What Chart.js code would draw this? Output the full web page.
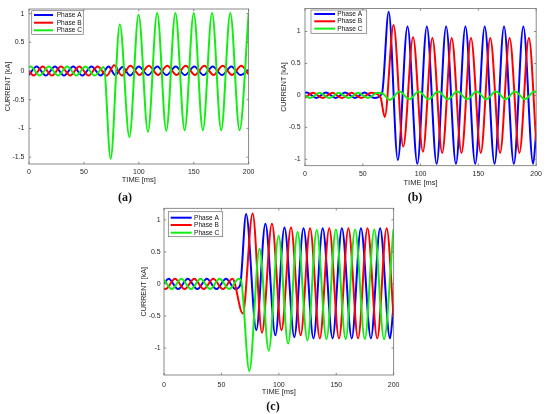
<!DOCTYPE html>
<html>
<head>
<meta charset="utf-8">
<script src="https://cdn.jsdelivr.net/npm/chart.js@4.4.0/dist/chart.umd.min.js"></script>
<style>
  body { margin: 0; background: #fff; width: 550px; height: 414px; position: relative; overflow: hidden; }
  canvas { position: absolute; }
  .tag { position: absolute; font-family: 'Liberation Serif', serif; font-weight: bold; font-size: 12px;
         color: #111; transform: translate(-50%, -50%); }
</style>
</head>
<body>
<canvas id="chart-a" width="258" height="190" style="left:0;top:0"></canvas>
<canvas id="chart-b" width="270" height="190" style="left:276px;top:0"></canvas>
<canvas id="chart-c" width="275" height="200" style="left:130px;top:200px"></canvas>
<div class="tag" style="left:125px;top:197px">(a)</div>
<div class="tag" style="left:415px;top:197px">(b)</div>
<div class="tag" style="left:273px;top:406px">(c)</div>
<script>
// tick labels
const xTicks = [0, 50, 100, 150, 200];
const yTicksA = [-1.5, -1, -0.5, 0, 0.5, 1];
const yTicksB = [-1, -0.5, 0, 0.5, 1];
const yTicksC = [-1, -0.5, 0, 0.5, 1];
const phaseNames = ['Phase A', 'Phase B', 'Phase C'];

// (a) extrema: time [ms], current [kA]
const aTimeA = [0, 6.9, 15.3, 23.6, 31.9, 40.2, 48.6, 56.9, 65.3, 72.5, 78.5, 85, 92, 100, 108.4, 116.8, 125.2, 133.6, 142, 150.5, 158.9, 167.3, 175.7, 184.2, 192.6, 200];
const aCurA  = [-0.07, 0.08, -0.08, 0.08, -0.08, 0.08, -0.08, 0.08, -0.08, 0.08, -0.07, 0.07, -0.08, 0.08, -0.07, 0.08, -0.07, 0.08, -0.07, 0.08, -0.07, 0.08, -0.07, 0.08, -0.07, 0.02];
const aTimeB = [0, 4.2, 12.5, 20.9, 29.2, 37.5, 45.8, 54.2, 62.5, 70.8, 77.5, 84.5, 92.3, 100.7, 109.1, 117.5, 125.9, 134.3, 142.7, 151.1, 159.6, 168, 176.4, 184.8, 193.3, 200];
const aCurB  = [0, -0.08, 0.08, -0.08, 0.08, -0.08, 0.08, -0.08, 0.08, -0.08, 0.1, -0.08, 0.09, -0.07, 0.09, -0.07, 0.09, -0.07, 0.09, -0.07, 0.09, -0.07, 0.09, -0.07, 0.09, -0.06];
const aTimeC = [0, 1.4, 9.7, 18.1, 26.4, 34.7, 43.1, 51.4, 59.7, 68.1, 74.3, 82.7, 91.4, 99.8, 108.3, 116.7, 125, 133.3, 141.7, 150, 158.3, 166.7, 175, 183.3, 191.7, 200];
const aCurC  = [0.07, 0.08, -0.08, 0.08, -0.08, 0.08, -0.08, 0.08, -0.08, 0.07, -1.53, 0.81, -1.15, 0.98, -1.06, 1.01, -1.04, 1.01, -1.03, 1.01, -1.03, 1.01, -1.03, 1.01, -1.03, 1.0];

// (b)
const bTimeA = [0, 1.5, 9.8, 18.2, 26.5, 34.8, 43.2, 51.5, 59.8, 66.6, 72.4, 80.3, 88.7, 97.2, 105.4, 113.9, 122.1, 130.6, 138.8, 147.3, 155.5, 164, 172.2, 180.7, 188.9, 197.4, 200];
const bCurA  = [0.04, 0.045, -0.04, 0.045, -0.04, 0.045, -0.04, 0.045, -0.04, 0.03, 1.31, -1.01, 1.08, -1.07, 1.08, -1.07, 1.08, -1.07, 1.08, -1.07, 1.08, -1.07, 1.08, -1.07, 1.08, -1.07, -0.58];
const bTimeB = [0, 7, 15.3, 23.7, 32, 40.3, 48.7, 57, 65.3, 69, 76.6, 85, 93.5, 102, 110.2, 118.7, 126.9, 135.4, 143.6, 152.1, 160.3, 168.8, 177, 185.5, 193.7, 200];
const bCurB  = [-0.035, 0.04, -0.04, 0.04, -0.04, 0.04, -0.04, 0.04, -0.03, -0.34, 1.1, -0.8, 0.91, -0.88, 0.9, -0.9, 0.9, -0.9, 0.9, -0.9, 0.9, -0.9, 0.9, -0.9, 0.9, -0.72];
const bTimeC = [0, 4.3, 12.6, 20.9, 29.2, 37.6, 45.9, 54.3, 62.6, 67, 73.5, 81.8, 90.2, 98.5, 106.8, 115.2, 123.5, 131.8, 140.2, 148.5, 156.8, 165.2, 173.5, 181.8, 190.2, 198.5, 200];
const bCurC  = [0, -0.04, 0.04, -0.04, 0.04, -0.04, 0.04, -0.04, 0.04, 0.03, -0.07, 0.06, -0.06, 0.06, -0.06, 0.06, -0.06, 0.06, -0.06, 0.06, -0.06, 0.06, -0.06, 0.06, -0.06, 0.06, 0.055];

// (c)
const cTimeA = [0, 4, 12.3, 20.7, 29, 37.3, 45.7, 54, 62.3, 66.3, 71.5, 80.4, 88.3, 97, 104.9, 113.5, 121.5, 130.2, 138.2, 146.8, 154.9, 163.5, 171.5, 180.2, 188.2, 196.8, 200];
const cCurA  = [0.01, 0.08, -0.08, 0.08, -0.08, 0.08, -0.08, 0.08, -0.08, -0.02, 1.09, -0.72, 0.94, -0.8, 0.88, -0.83, 0.87, -0.85, 0.87, -0.85, 0.87, -0.85, 0.87, -0.85, 0.87, -0.85, -0.32];
const cTimeB = [0, 1.3, 9.6, 17.9, 26.3, 34.6, 42.9, 51.3, 59.6, 68.6, 77.2, 85.3, 94, 102.3, 110.6, 119, 127.2, 135.7, 143.9, 152.4, 160.6, 169, 177.2, 185.7, 193.9, 200];
const cCurB  = [-0.07, -0.08, 0.08, -0.08, 0.08, -0.08, 0.08, -0.08, 0.08, -0.46, 1.1, -0.76, 0.94, -0.72, 0.88, -0.8, 0.87, -0.85, 0.87, -0.85, 0.87, -0.85, 0.87, -0.85, 0.87, -0.53];
const cTimeC = [0, 6.8, 15.1, 23.5, 31.8, 40.1, 48.4, 56.8, 65.1, 67, 74.3, 83.2, 91.2, 99.8, 108.1, 116.3, 124.9, 133, 141.5, 149.7, 158.2, 166.4, 174.9, 183.1, 191.6, 199.8];
const cCurC  = [0.066, -0.08, 0.08, -0.08, 0.08, -0.08, 0.08, -0.08, 0.08, 0.06, -1.36, 0.55, -1.04, 0.75, -0.93, 0.81, -0.88, 0.84, -0.86, 0.85, -0.86, 0.85, -0.86, 0.85, -0.86, 0.85];

const FONT = "'Liberation Sans', Arial, sans-serif";
const INK = '#262626';
const FRAME = '#6e6e6e';
const colors = ['#0000ff', '#ff0000', '#12ee12'];

function toPoints(times, values) {
    return times.map((t, i) => ({ x: t, y: values[i] }));
}

// box around the axes with inward tick marks, like MATLAB
const framePlugin = {
    id: 'frame',
    afterDatasetsDraw(chart) {
        const { ctx, chartArea: a, scales } = chart;
        ctx.save();
        ctx.strokeStyle = FRAME;
        ctx.lineWidth = 0.8;
        ctx.strokeRect(a.left, a.top, a.right - a.left, a.bottom - a.top);
        ctx.beginPath();
        scales.x.ticks.forEach(t => {
            const px = scales.x.getPixelForValue(t.value);
            ctx.moveTo(px, a.bottom); ctx.lineTo(px, a.bottom - 2.2);
            ctx.moveTo(px, a.top); ctx.lineTo(px, a.top + 2.2);
        });
        scales.y.ticks.forEach(t => {
            const py = scales.y.getPixelForValue(t.value);
            ctx.moveTo(a.left, py); ctx.lineTo(a.left + 2.2, py);
            ctx.moveTo(a.right, py); ctx.lineTo(a.right - 2.2, py);
        });
        ctx.stroke();
        ctx.restore();
    }
};

// legend box drawn inside the axes
const insideLegend = {
    id: 'insideLegend',
    afterDraw(chart, args, opts) {
        const { ctx } = chart;
        ctx.save();
        ctx.fillStyle = '#fff';
        ctx.fillRect(opts.x, opts.y, opts.w, opts.h);
        ctx.strokeStyle = FRAME;
        ctx.lineWidth = 0.7;
        ctx.strokeRect(opts.x, opts.y, opts.w, opts.h);
        ctx.font = '6.6px ' + FONT;
        ctx.textBaseline = 'middle';
        chart.data.datasets.forEach((ds, i) => {
            const y = opts.rows[i];
            ctx.strokeStyle = ds.borderColor;
            ctx.lineWidth = 2;
            ctx.beginPath();
            ctx.moveTo(opts.lx0, y);
            ctx.lineTo(opts.lx1, y);
            ctx.stroke();
            ctx.fillStyle = '#111';
            ctx.fillText(ds.label, opts.tx, y + 0.3);
        });
        ctx.restore();
    }
};

function makeChart(id, series, cfg) {
    const datasets = series.map((s, i) => ({
        label: phaseNames[i],
        data: toPoints(s[0], s[1]),
        borderColor: colors[i],
        borderWidth: 2,
        pointRadius: 0,
        fill: false,
        cubicInterpolationMode: 'monotone',
        order: 3 - i
    }));
    return new Chart(document.getElementById(id), {
        type: 'line',
        data: { datasets },
        plugins: [framePlugin, insideLegend],
        options: {
            responsive: false,
            animation: false,
            events: [],
            layout: { padding: { top: cfg.padTop, right: cfg.padRight, left: 0, bottom: 0 } },
            plugins: {
                legend: { display: false },
                tooltip: { enabled: false },
                insideLegend: cfg.legend
            },
            scales: {
                x: {
                    type: 'linear',
                    min: 0,
                    max: 200,
                    afterBuildTicks: scale => { scale.ticks = xTicks.map(v => ({ value: v })); },
                    afterFit: scale => { scale.height = cfg.xAxisH; },
                    grid: { display: false, drawTicks: false },
                    border: { display: false },
                    ticks: { color: INK, font: { family: FONT, size: 7 }, padding: cfg.xTickPad, maxRotation: 0 },
                    title: { display: true, text: 'TIME [ms]', color: INK,
                             font: { family: FONT, size: 7.5 }, padding: { top: 0, bottom: cfg.xTitlePad } }
                },
                y: {
                    type: 'linear',
                    min: cfg.yMin,
                    max: cfg.yMax,
                    afterBuildTicks: scale => { scale.ticks = cfg.yTicks.map(v => ({ value: v })); },
                    afterFit: scale => { scale.width = cfg.yAxisW; },
                    grid: { display: false, drawTicks: false },
                    border: { display: false },
                    ticks: { color: INK, font: { family: FONT, size: 7 }, padding: cfg.yTickPad,
                             callback: v => String(v) },
                    title: { display: true, text: 'CURRENT [kA]', color: INK,
                             font: { family: FONT, size: 7.2 }, padding: { top: cfg.yTitlePad, bottom: 0 } }
                }
            }
        }
    });
}

makeChart('chart-a', [[aTimeA, aCurA], [aTimeB, aCurB], [aTimeC, aCurC]], {
    yMin: -1.62, yMax: 1.08, yTicks: yTicksA,
    padTop: 9, padRight: 7, xAxisH: 26, yAxisW: 29,
    xTickPad: 3.5, xTitlePad: 5.5, yTickPad: 4.5, yTitlePad: 3.5,
    legend: { x: 31.7, y: 10.7, w: 51.6, h: 23.6, rows: [15, 22.7, 30.3], lx0: 34, lx1: 53, tx: 56.7 }
});

makeChart('chart-b', [[bTimeA, bCurA], [bTimeB, bCurB], [bTimeC, bCurC]], {
    yMin: -1.1, yMax: 1.36, yTicks: yTicksB,
    padTop: 4, padRight: 4, xAxisH: 24.3, yAxisW: 29,
    xTickPad: 4, xTitlePad: 2.8, yTickPad: 4.3, yTitlePad: 3.5,
    legend: { x: 35, y: 10, w: 55.7, h: 23.3, rows: [14, 21.3, 28.6], lx0: 38.3, lx1: 59, tx: 61.3 }
});

makeChart('chart-c', [[cTimeA, cCurA], [cTimeB, cCurB], [cTimeC, cCurC]], {
    yMin: -1.42, yMax: 1.18, yTicks: yTicksC,
    padTop: 8.3, padRight: 5, xAxisH: 25, yAxisW: 34,
    xTickPad: 5.5, xTitlePad: 3.8, yTickPad: 3.3, yTitlePad: 9.8,
    legend: { x: 38.3, y: 11.7, w: 54.4, h: 25, rows: [17.7, 25, 32.7], lx0: 40.7, lx1: 61.7, tx: 64 }
});
</script>
</body>
</html>
